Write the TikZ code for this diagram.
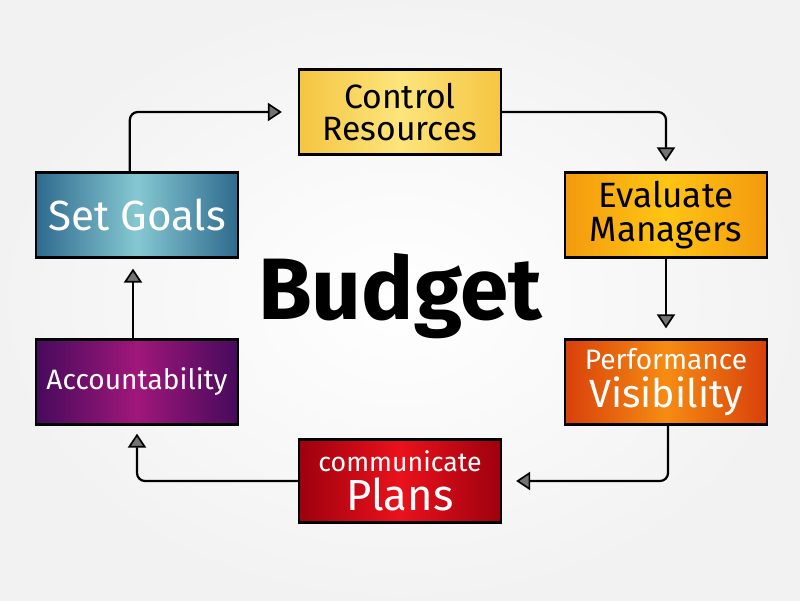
\documentclass[tikz,border=0pt]{standalone}
\usepackage{fontspec}
\setmainfont{Fira Sans}
\usetikzlibrary{arrows.meta,positioning}

\definecolor{goalsedge}{HTML}{2E6A8E}
\definecolor{goalsmid}{HTML}{86C8D2}
\definecolor{acctedge}{HTML}{460A5C}
\definecolor{acctmid}{HTML}{A0177A}
\definecolor{ctrledge}{HTML}{F5C541}
\definecolor{ctrlmid}{HTML}{FCE57C}
\definecolor{evaledge}{HTML}{F39A0E}
\definecolor{evalmid}{HTML}{FFC514}
\definecolor{perfedge}{HTML}{D8400B}
\definecolor{perfmid}{HTML}{F68C12}
\definecolor{commedge}{HTML}{9E000F}
\definecolor{commmid}{HTML}{EA121B}

\begin{document}
\begin{tikzpicture}[
  box/.style={draw=black,line width=1.6pt,minimum width=5.05cm,minimum height=2.125cm,
    inner sep=0pt,align=center},
  flow/.style={draw=black,line width=1.6pt,rounded corners=0.2cm,
    -{Triangle[length=10pt,width=13pt,line width=1.2pt,fill=black!55]}}
  ]

    % background
    \useasboundingbox (0,0) rectangle (20,15);
    \fill[inner color=white,outer color=gray!10] (0,0) rectangle (20,15);

    \node[box,left color=ctrledge,right color=ctrledge,middle color=ctrlmid,
        font=\fontsize{24}{23}\selectfont]
        (ctrl) at (10,12.2) {Control\\Resources};
    \node[box,left color=evaledge,right color=evaledge,middle color=evalmid,
        font=\fontsize{25}{24}\selectfont]
        (eval) at (16.65,9.625) {Evaluate\\Managers};
    \node[box,left color=perfedge,right color=perfedge,middle color=perfmid,text=white,
        font=\fontsize{28}{27}\selectfont]
        (perf) at (16.65,5.45) {{\fontsize{20}{20}\selectfont Performance}\\Visibility};
    \node[box,left color=commedge,right color=commedge,middle color=commmid,text=white,
        minimum height=2.075cm,font=\fontsize{31}{28}\selectfont]
        (comm) at (10,2.975) {{\fontsize{19}{19}\selectfont communicate}\\Plans};
    \node[box,left color=acctedge,right color=acctedge,middle color=acctmid,text=white,
        font=\fontsize{20}{22}\selectfont]
        (acct) at (3.425,5.45) {Accountability};
    \node[box,left color=goalsedge,right color=goalsedge,middle color=goalsmid,text=white,
        font=\fontsize{30}{30}\selectfont]
        (goals) at (3.425,9.625) {Set Goals};

    \node[font=\fontsize{62}{62}\selectfont\bfseries] (budget) at (10,7.6) {Budget};

    \draw[flow,shorten >=0.4cm] ([xshift=-0.18cm]goals.north) |- (ctrl.west);
    \draw[flow,shorten >=0.25cm] (ctrl.east) -| (eval.north);
    \draw[flow,shorten >=0.25cm] (eval.south) -- (perf.north);
    \draw[flow,shorten >=0.35cm] ([xshift=0.05cm]perf.south) |- (comm.east);
    \draw[flow,shorten >=0.2cm] (comm.west) -| (acct.south);
    \draw[flow,shorten >=0.25cm] ([xshift=-0.1cm]acct.north) -- ([xshift=-0.1cm]goals.south);
\end{tikzpicture}
\end{document}
